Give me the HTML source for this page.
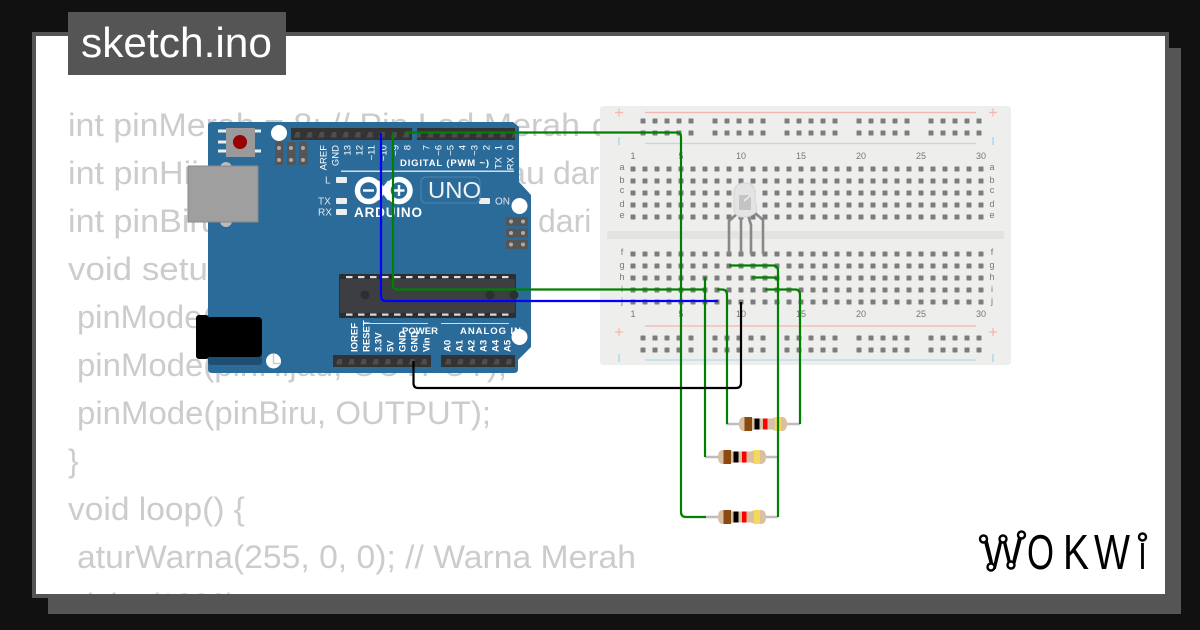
<!DOCTYPE html>
<html>
<head>
<meta charset="utf-8">
<style>
html,body{margin:0;padding:0;background:#111;width:1200px;height:630px;overflow:hidden}
svg{display:block}
text{font-family:"Liberation Sans",sans-serif}
.code{font-size:32px;fill:#ccc}
.p{font-size:9.5px;fill:#fff}
.b{font-size:9.5px;fill:#fff;font-weight:bold;letter-spacing:1px}
.n{font-size:9px;fill:#777}
.w{fill:none;stroke-width:2.2;stroke-linejoin:round}
.lg{font-size:49px;fill:#000}
</style>
</head>
<body>
<svg width="1200" height="630" viewBox="0 0 1200 630" xmlns="http://www.w3.org/2000/svg">
<defs>
<pattern id="h" x="627" y="163" width="12" height="12" patternUnits="userSpaceOnUse"><rect x="3.5" y="3.5" width="5" height="5" rx=".6" fill="#7d7d7d"/></pattern>
<pattern id="h2" x="627" y="248" width="12" height="12" patternUnits="userSpaceOnUse"><rect x="3.5" y="3.5" width="5" height="5" rx=".6" fill="#7d7d7d"/></pattern>
<pattern id="r1" x="637" y="115" width="12" height="12" patternUnits="userSpaceOnUse"><rect x="3.5" y="3.5" width="5" height="5" rx=".6" fill="#7d7d7d"/></pattern>
<pattern id="r2" x="637" y="332" width="12" height="12" patternUnits="userSpaceOnUse"><rect x="3.5" y="3.5" width="5" height="5" rx=".6" fill="#7d7d7d"/></pattern>
<pattern id="hd" x="291" y="128" width="12.1" height="12" patternUnits="userSpaceOnUse"><rect width="12.1" height="12" fill="#333"/><path d="M3 9.500 L5 4 H9 V9.500 Z" fill="#4e4e4e"/></pattern>
<pattern id="hd2" x="333" y="355" width="12.1" height="12" patternUnits="userSpaceOnUse"><rect width="12.1" height="12" fill="#333"/><path d="M3 9.500 L5 4 H9 V9.500 Z" fill="#4e4e4e"/></pattern>
<pattern id="ic" x="346" y="276" width="12" height="2.200" patternUnits="userSpaceOnUse"><rect width="6.500" height="2.200" fill="#ddd"/></pattern>
<pattern id="ic2" x="346" y="313.500" width="12" height="2.200" patternUnits="userSpaceOnUse"><rect width="6.500" height="2.200" fill="#ddd"/></pattern>
</defs>

<!-- frame -->
<rect x="48" y="48" width="1133" height="566" fill="#555"/>
<rect x="34" y="34" width="1133" height="562" fill="#fff" stroke="#555" stroke-width="4"/>

<!-- code -->
<svg x="36" y="36" width="1129" height="558" viewBox="36 36 1129 558">
<g lengthAdjust="spacingAndGlyphs">
<text class="code" x="68" y="136" textLength="512" lengthAdjust="spacingAndGlyphs">int pinMerah = 8; // Pin Led Merah</text>
<text class="code" x="592" y="136">dari</text>
<text class="code" x="68" y="184" textLength="477" lengthAdjust="spacingAndGlyphs">int pinHijau = 9; // Pin Led Hijau</text>
<text class="code" x="553" y="184">dari</text>
<text class="code" x="68" y="232" textLength="462" lengthAdjust="spacingAndGlyphs">int pinBiru = 10; // Pin Led Biru</text>
<text class="code" x="538" y="232">dari</text>
<text class="code" x="68" y="280" textLength="204" lengthAdjust="spacingAndGlyphs">void setup() {</text>
<text class="code" x="77" y="328" textLength="445" lengthAdjust="spacingAndGlyphs">pinMode(pinMerah, OUTPUT);</text>
<text class="code" x="77" y="376" textLength="430" lengthAdjust="spacingAndGlyphs">pinMode(pinHijau, OUTPUT);</text>
<text class="code" x="77" y="424" textLength="414" lengthAdjust="spacingAndGlyphs">pinMode(pinBiru, OUTPUT);</text>
<text class="code" x="68" y="472">}</text>
<text class="code" x="68" y="520" textLength="177" lengthAdjust="spacingAndGlyphs">void loop() {</text>
<text class="code" x="77" y="568" textLength="559" lengthAdjust="spacingAndGlyphs">aturWarna(255, 0, 0); // Warna Merah</text>
<text class="code" x="77" y="616" textLength="168" lengthAdjust="spacingAndGlyphs">delay(1000);</text>
</g>
</svg>

<!-- title -->
<rect x="68" y="12" width="218" height="63" fill="#555"/>
<text x="81" y="57" font-size="42" fill="#fff" textLength="191" lengthAdjust="spacingAndGlyphs">sketch.ino</text>

<!-- Arduino -->
<path d="M212 122 H513 L519 127 V182 L531 195 V347 L518 360 V369 Q518 373 514 373 H212 Q208 373 208 369 V126 Q208 122 212 122 Z" fill="#2b6b99"/>
<!-- reset -->
<path d="M218 131 h10 M218 142 h10 M218 151 h10 M253 131 h8 M253 151 h8" stroke="#eee" stroke-width="3"/>
<rect x="226" y="128" width="29" height="29" fill="#9a9a9a"/>
<circle cx="240" cy="142" r="7" fill="#990000"/>
<!-- holes -->
<circle cx="279" cy="133" r="8" fill="#fff"/>
<circle cx="519.500" cy="206" r="8" fill="#fff"/>
<circle cx="519.500" cy="337" r="8" fill="#fff"/>
<circle cx="273.500" cy="361" r="7.500" fill="#fff"/>
<path d="M273.500 354 V363.500 H281" stroke="#ccc" stroke-width="1.500" fill="none"/>
<!-- ICSP -->
<g fill="#555"><rect x="275" y="142" width="8.500" height="23"/><rect x="287" y="142" width="8.500" height="23"/><rect x="299" y="142" width="8.500" height="23"/></g>
<g fill="#aaa"><circle cx="279" cy="148" r="2"/><circle cx="291" cy="148" r="2"/><circle cx="303" cy="148" r="2"/><circle cx="279" cy="160" r="2"/><circle cx="291" cy="160" r="2"/><circle cx="303" cy="160" r="2"/></g>
<!-- right ICSP -->
<g fill="#555"><rect x="506" y="217" width="22" height="9"/><rect x="506" y="228.500" width="22" height="9"/><rect x="506" y="240" width="22" height="9"/></g>
<g fill="#aaa"><circle cx="511" cy="221.500" r="2"/><circle cx="523" cy="221.500" r="2"/><circle cx="511" cy="233" r="2"/><circle cx="523" cy="233" r="2"/><circle cx="511" cy="244.500" r="2"/><circle cx="523" cy="244.500" r="2"/></g>
<!-- USB -->
<circle cx="226" cy="168" r="6" fill="#bbb"/><circle cx="226" cy="221" r="6" fill="#bbb"/>
<rect x="188" y="166" width="70" height="56" fill="#9f9f9f" stroke="#8a8a8a" stroke-width="1"/>
<!-- jack -->
<rect x="208" y="322" width="54" height="43" rx="3" fill="#1f4e73"/>
<rect x="196" y="315" width="13" height="44" rx="3" fill="#000"/>
<rect x="207" y="317" width="55" height="40" rx="4" fill="#000"/>
<!-- headers -->
<rect x="291" y="128" width="121" height="12" fill="url(#hd)"/>
<rect x="417" y="128" width="98" height="12" fill="url(#hd)"/>
<rect x="333" y="355" width="98" height="12" fill="url(#hd2)"/>
<rect x="441" y="355" width="74" height="12" fill="url(#hd2)"/>
<!-- top labels -->
<g text-anchor="end">
<text class="p" transform="translate(326.500,145) rotate(-90)">AREF</text>
<text class="p" transform="translate(338.500,145) rotate(-90)">GND</text>
<text class="p" transform="translate(350.500,145) rotate(-90)">13</text>
<text class="p" transform="translate(362.500,145) rotate(-90)">12</text>
<text class="p" transform="translate(374.500,145) rotate(-90)">~11</text>
<text class="p" transform="translate(386.500,145) rotate(-90)">~10</text>
<text class="p" transform="translate(398.500,145) rotate(-90)">~9</text>
<text class="p" transform="translate(410.500,145) rotate(-90)">8</text>
<text class="p" transform="translate(429.500,145) rotate(-90)">7</text>
<text class="p" transform="translate(441.500,145) rotate(-90)">~6</text>
<text class="p" transform="translate(453.500,145) rotate(-90)">~5</text>
<text class="p" transform="translate(465.500,145) rotate(-90)">4</text>
<text class="p" transform="translate(477.500,145) rotate(-90)">~3</text>
<text class="p" transform="translate(489.500,145) rotate(-90)">2</text>
<text class="p" transform="translate(501.500,157) rotate(-90)">TX</text>
<text class="p" transform="translate(513.500,157) rotate(-90)">RX</text>
<text class="p" transform="translate(501.500,145) rotate(-90)">1</text>
<text class="p" transform="translate(513.500,145) rotate(-90)">0</text>
</g>
<text class="b" x="400" y="166" textLength="90">DIGITAL (PWM ~)</text>
<rect x="341" y="170.500" width="173" height="1.500" fill="#cfdde8"/>
<!-- LEDs -->
<g font-size="10" fill="#e6e6e6">
<text x="325" y="183.500">L</text><text x="318" y="204.500">TX</text><text x="318" y="215.500">RX</text><text x="495" y="204.500">ON</text>
</g>
<g fill="#eee"><rect x="336" y="177" width="11" height="6" rx="1"/><rect x="336" y="198" width="11" height="6" rx="1"/><rect x="336" y="209" width="11" height="6" rx="1"/><rect x="479" y="198" width="11" height="6" rx="1"/></g>
<!-- logo -->
<path d="M377 182 L390 199 M377 199 L390 182" stroke="#fff" stroke-width="5"/>
<circle cx="368.500" cy="190.500" r="11" fill="#2b6b99" stroke="#fff" stroke-width="5.500"/>
<circle cx="399" cy="190.500" r="11" fill="#2b6b99" stroke="#fff" stroke-width="5.500"/>
<rect x="363" y="189.300" width="11" height="2.400" fill="#fff"/>
<rect x="393.500" y="189.300" width="11" height="2.400" fill="#fff"/>
<rect x="397.800" y="185" width="2.400" height="11" fill="#fff"/>
<text x="354" y="217" font-size="13.500" font-weight="bold" fill="#fff" textLength="68">ARDUINO</text>
<rect x="421" y="177" width="59" height="26" rx="5" fill="none" stroke="#4d85ad" stroke-width="1"/>
<text x="428" y="198" font-size="23" fill="#fff" fill-opacity=".92" textLength="53" lengthAdjust="spacingAndGlyphs">UNO</text>
<!-- IC -->
<rect x="339" y="274" width="177" height="44" rx="1" fill="#2c2e31"/>
<rect x="340" y="279" width="175" height="34" fill="#3c3e41"/>
<rect x="346" y="276" width="165" height="2.200" fill="url(#ic)"/>
<rect x="346" y="313.500" width="165" height="2.200" fill="url(#ic2)"/>
<circle cx="365" cy="295" r="4.500" fill="#2c2e31"/><circle cx="490" cy="295" r="4.500" fill="#2c2e31"/><circle cx="514" cy="295" r="4.500" fill="#2c2e31"/>
<!-- bottom labels -->
<text class="p" transform="translate(357.500,352) rotate(-90)" font-weight="bold">IOREF</text>
<text class="p" transform="translate(369.500,352) rotate(-90)" font-weight="bold">RESET</text>
<text class="p" transform="translate(381.500,352) rotate(-90)" font-weight="bold">3.3V</text>
<text class="p" transform="translate(393.500,352) rotate(-90)" font-weight="bold">5V</text>
<text class="p" transform="translate(405.500,352) rotate(-90)" font-weight="bold">GND</text>
<text class="p" transform="translate(417.500,352) rotate(-90)" font-weight="bold">GND</text>
<text class="p" transform="translate(429.500,352) rotate(-90)" font-weight="bold">Vin</text>
<text class="p" transform="translate(450.500,352) rotate(-90)" font-weight="bold">A0</text>
<text class="p" transform="translate(462.500,352) rotate(-90)" font-weight="bold">A1</text>
<text class="p" transform="translate(474.500,352) rotate(-90)" font-weight="bold">A2</text>
<text class="p" transform="translate(486.500,352) rotate(-90)" font-weight="bold">A3</text>
<text class="p" transform="translate(498.500,352) rotate(-90)" font-weight="bold">A4</text>
<text class="p" transform="translate(510.500,352) rotate(-90)" font-weight="bold">A5</text>
<rect x="368" y="323" width="60" height="1" fill="#cfdde8"/><rect x="441" y="323" width="68" height="1" fill="#cfdde8"/>
<text class="b" x="402" y="334" textLength="37">POWER</text>
<text class="b" x="460" y="334" textLength="62">ANALOG IN</text>

<!-- breadboard -->
<rect x="600" y="106" width="411" height="259" rx="3" fill="#eeeeec"/>
<rect x="607" y="231" width="397" height="8" fill="#e3e3e1"/>
<rect x="627" y="163" width="360" height="60" fill="url(#h)"/>
<rect x="627" y="248" width="360" height="60" fill="url(#h2)"/>
<g fill="url(#r1)"><rect x="637" y="115" width="60" height="24"/><rect x="709" y="115" width="60" height="24"/><rect x="781" y="115" width="60" height="24"/><rect x="853" y="115" width="60" height="24"/><rect x="925" y="115" width="60" height="24"/></g>
<g fill="url(#r2)"><rect x="637" y="332" width="60" height="24"/><rect x="709" y="332" width="60" height="24"/><rect x="781" y="332" width="60" height="24"/><rect x="853" y="332" width="60" height="24"/><rect x="925" y="332" width="60" height="24"/></g>
<path d="M645 112.500 H976 " stroke="#f5b5b0" stroke-width="1.200"/>
<path d="M645 143.500 H976 " stroke="#b0dff0" stroke-width="1.200"/>
<path d="M645 326 H976 " stroke="#f5b5b0" stroke-width="1.200"/>
<path d="M645 360 H976 " stroke="#b0dff0" stroke-width="1.200"/>
<path d="M615 112.500 h8 M619 108.500 v8 M989 112.500 h8 M993 108.500 v8 M615 332 h8 M619 328 v8 M989 332 h8 M993 328 v8" stroke="#f5b5b0" stroke-width="1.200"/>
<path d="M619 137 v8 M993 137 v8 M619 354 v8 M993 354 v8" stroke="#a8dcf0" stroke-width="1.500"/>
<g text-anchor="middle">
<text class="n" x="633" y="159">1</text><text class="n" x="681" y="159">5</text><text class="n" x="741" y="159">10</text><text class="n" x="801" y="159">15</text><text class="n" x="861" y="159">20</text><text class="n" x="921" y="159">25</text><text class="n" x="981" y="159">30</text>
<text class="n" x="633" y="317">1</text><text class="n" x="681" y="317">5</text><text class="n" x="741" y="317">10</text><text class="n" x="801" y="317">15</text><text class="n" x="861" y="317">20</text><text class="n" x="921" y="317">25</text><text class="n" x="981" y="317">30</text>
<text class="n" x="622" y="170">a</text><text class="n" x="622" y="183">b</text><text class="n" x="622" y="193">c</text><text class="n" x="622" y="207">d</text><text class="n" x="622" y="218">e</text>
<text class="n" x="622" y="255">f</text><text class="n" x="622" y="268">g</text><text class="n" x="622" y="280">h</text><text class="n" x="622" y="292">i</text><text class="n" x="622" y="304">j</text>
<text class="n" x="992" y="170">a</text><text class="n" x="992" y="183">b</text><text class="n" x="992" y="193">c</text><text class="n" x="992" y="207">d</text><text class="n" x="992" y="218">e</text>
<text class="n" x="992" y="255">f</text><text class="n" x="992" y="268">g</text><text class="n" x="992" y="280">h</text><text class="n" x="992" y="292">i</text><text class="n" x="992" y="304">j</text>
</g>

<!-- LED -->
<g fill="none" stroke="#888" stroke-width="2.600">
<path d="M738 213 L729 221 V254"/>
<path d="M741 214 V254"/>
<path d="M748 215 L751 225 V254"/>
<path d="M755 213 L763 220 V254"/>
</g>
<path d="M734 210 V194 Q734 183 745 183 Q755 183 755 194 V203 Q758 207 756 212 Q750 218 741 217 Q735 216 734 210 Z" fill="#e4e4e4" stroke="#d4d4d4" stroke-width="1"/>
<rect x="739" y="195" width="12" height="15" fill="#c4c4c4"/>
<path d="M744 201 L751 195" stroke="#eee" stroke-width="1.500"/>

<!-- resistors -->
<g fill="none" stroke="#bdbdbd" stroke-width="2.400">
<path d="M726 424 H800"/><path d="M705 457 H778"/><path d="M706 517 H778"/>
</g>
<g>
<path d="M744 417 Q739 417 739 424 Q739 431 744 431 H750 L754 429.500 H772 L776 431 H782 Q787 431 787 424 Q787 417 782 417 H776 L772 418.500 H754 L750 417 Z" fill="#d9bfa3"/>
<rect x="744.500" y="417" width="7.500" height="14" fill="#8b4a12"/>
<rect x="754.500" y="418.500" width="5" height="11" fill="#000"/>
<rect x="763" y="418.500" width="4.500" height="11" fill="#f00"/>
<rect x="775" y="417" width="6" height="14" fill="#f5d95a"/>
</g>
<g transform="translate(-21 33)">
<path d="M744 417 Q739 417 739 424 Q739 431 744 431 H750 L754 429.500 H772 L776 431 H782 Q787 431 787 424 Q787 417 782 417 H776 L772 418.500 H754 L750 417 Z" fill="#d9bfa3"/>
<rect x="744.500" y="417" width="7.500" height="14" fill="#8b4a12"/>
<rect x="754.500" y="418.500" width="5" height="11" fill="#000"/>
<rect x="763" y="418.500" width="4.500" height="11" fill="#f00"/>
<rect x="775" y="417" width="6" height="14" fill="#f5d95a"/>
</g>
<g transform="translate(-21 93)">
<path d="M744 417 Q739 417 739 424 Q739 431 744 431 H750 L754 429.500 H772 L776 431 H782 Q787 431 787 424 Q787 417 782 417 H776 L772 418.500 H754 L750 417 Z" fill="#d9bfa3"/>
<rect x="744.500" y="417" width="7.500" height="14" fill="#8b4a12"/>
<rect x="754.500" y="418.500" width="5" height="11" fill="#000"/>
<rect x="763" y="418.500" width="4.500" height="11" fill="#f00"/>
<rect x="775" y="417" width="6" height="14" fill="#f5d95a"/>
</g>

<!-- wires -->
<path class="w" d="M405 132.500 H677 Q681 132.500 681 137 V512 Q681 517 686 517 H706" stroke="#008000"/>
<path class="w" d="M393 133 V285 Q393 289.500 398 289.500 H705" stroke="#008000"/>
<path class="w" d="M705 277 V457" stroke="#008000"/>
<path class="w" d="M717 289.500 H722 Q727 289.500 727 295 V424" stroke="#008000"/>
<path class="w" d="M729 265.500 H773 Q778 265.500 778 271 V517" stroke="#008000"/>
<path class="w" d="M752 277.500 H773 Q778 277.500 778 282" stroke="#008000"/>
<path class="w" d="M765 289.500 H795 Q800 289.500 800 295 V424" stroke="#008000"/>
<path class="w" d="M381 133 V296 Q381 301 386 301 H718" stroke="#0000ff"/>
<path class="w" d="M413.500 361 V383 Q413.500 388 418 388 H736 Q741 388 741 383 V302" stroke="#000"/>

<!-- wokwi wordmark -->
<text class="lg" x="982" y="569" textLength="41" lengthAdjust="spacingAndGlyphs">W</text>
<text class="lg" x="1027" y="569" textLength="27" lengthAdjust="spacingAndGlyphs">O</text>
<text class="lg" x="1063" y="569" textLength="26" lengthAdjust="spacingAndGlyphs">K</text>
<text class="lg" x="1094" y="569" textLength="36" lengthAdjust="spacingAndGlyphs">W</text>
<text class="lg" x="1138" y="569" textLength="9" lengthAdjust="spacingAndGlyphs">ı</text>
<g fill="#fff" stroke="#000" stroke-width="2.400">
<circle cx="983.500" cy="539" r="3.500"/><circle cx="1003" cy="539" r="3.500"/><circle cx="1021.500" cy="535" r="3.500"/><circle cx="991" cy="567" r="3.500"/><circle cx="1011" cy="565" r="3.500"/><circle cx="1142.500" cy="537" r="3.500"/>
</g>
</svg>
</body>
</html>
